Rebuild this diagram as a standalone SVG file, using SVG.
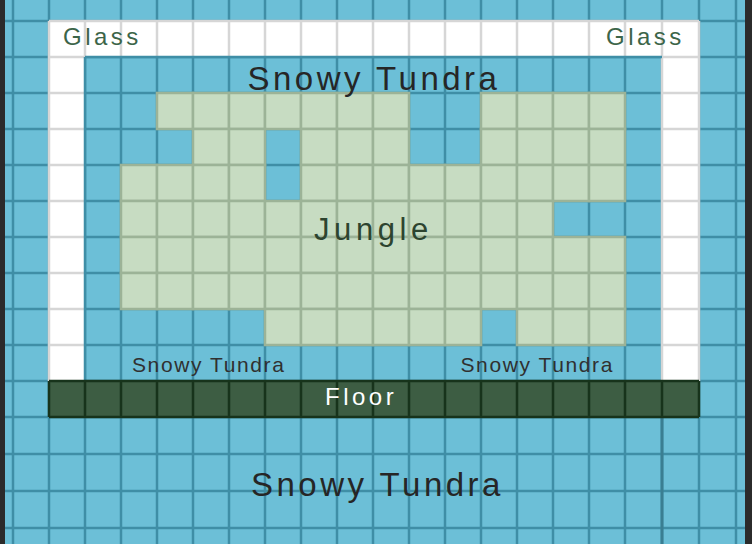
<svg xmlns="http://www.w3.org/2000/svg" width="752" height="544" viewBox="0 0 752 544">
<style>
.bg{fill:#6CBFD7}
.bgl{fill:none;stroke:#3F8EA6;stroke-width:2.5}
.gl{fill:#FFFFFF}
.gll{fill:none;stroke:#D6D6D6;stroke-width:2.5}
.j{fill:#C7DCC2;stroke:#9CB397;stroke-width:2.5}
.fl{fill:#3D5D43}
.fll{fill:none;stroke:#17331B;stroke-width:2.5}
.edge{fill:#2B2B2B}
text{font-family:"Liberation Sans",Arial,sans-serif}
.big{font-size:33px;fill:#262626;letter-spacing:3.5px}
.mid{font-size:21px;fill:#303030;letter-spacing:1.6px}
.glt{font-size:24px;fill:#3C6549;letter-spacing:3.5px}
.jt{font-size:31px;fill:#2D442F;letter-spacing:4.6px}
.ft{font-size:24px;fill:#FFFFFF;letter-spacing:3.5px}
</style>
<g id="background">
<rect class="bg" x="0" y="0" width="752" height="544"/>
<path class="bgl" d="M13 0V544M49 0V544M85 0V544M121 0V544M157 0V544M193 0V544M229 0V544M265 0V544M301 0V544M337 0V544M373 0V544M409 0V544M445 0V544M481 0V544M517 0V544M553 0V544M589 0V544M625 0V544M662 0V544M699 0V544M736 0V544M0 21H752M0 57H752M0 93H752M0 129H752M0 165H752M0 201H752M0 237H752M0 273H752M0 309H752M0 345H752M0 381H752M0 417H752M0 454H752M0 491H752M0 528H752"/>
<path d="M662 417V544" fill="none" stroke="#3A7E92" stroke-width="3"/>
<rect class="edge" x="0" y="0" width="5" height="544"/>
<rect class="edge" x="745" y="0" width="7" height="544"/>
</g>
<g id="glass">
<rect class="gl" x="49" y="21" width="650" height="36"/>
<rect class="gl" x="49" y="57" width="36" height="324"/>
<rect class="gl" x="662" y="57" width="37" height="324"/>
<path class="gll" d="M49 21H699M49 57H85M662 57H699M49 21V381M699 21V381M662 21V381M85 21V57M121 21V57M157 21V57M193 21V57M229 21V57M265 21V57M301 21V57M337 21V57M373 21V57M409 21V57M445 21V57M481 21V57M517 21V57M553 21V57M589 21V57M625 21V57M49 93H85M49 129H85M49 165H85M49 201H85M49 237H85M49 273H85M49 309H85M49 345H85M662 93H699M662 129H699M662 165H699M662 201H699M662 237H699M662 273H699M662 309H699M662 345H699"/>
<path class="bgl" d="M85 57V381M85 57H662"/>
</g>
<g id="jungle">
<rect class="j" x="157" y="93" width="36" height="36"/>
<rect class="j" x="193" y="93" width="36" height="36"/>
<rect class="j" x="229" y="93" width="36" height="36"/>
<rect class="j" x="265" y="93" width="36" height="36"/>
<rect class="j" x="301" y="93" width="36" height="36"/>
<rect class="j" x="337" y="93" width="36" height="36"/>
<rect class="j" x="373" y="93" width="36" height="36"/>
<rect class="j" x="481" y="93" width="36" height="36"/>
<rect class="j" x="517" y="93" width="36" height="36"/>
<rect class="j" x="553" y="93" width="36" height="36"/>
<rect class="j" x="589" y="93" width="36" height="36"/>
<rect class="j" x="193" y="129" width="36" height="36"/>
<rect class="j" x="229" y="129" width="36" height="36"/>
<rect class="j" x="301" y="129" width="36" height="36"/>
<rect class="j" x="337" y="129" width="36" height="36"/>
<rect class="j" x="373" y="129" width="36" height="36"/>
<rect class="j" x="481" y="129" width="36" height="36"/>
<rect class="j" x="517" y="129" width="36" height="36"/>
<rect class="j" x="553" y="129" width="36" height="36"/>
<rect class="j" x="589" y="129" width="36" height="36"/>
<rect class="j" x="121" y="165" width="36" height="36"/>
<rect class="j" x="157" y="165" width="36" height="36"/>
<rect class="j" x="193" y="165" width="36" height="36"/>
<rect class="j" x="229" y="165" width="36" height="36"/>
<rect class="j" x="301" y="165" width="36" height="36"/>
<rect class="j" x="337" y="165" width="36" height="36"/>
<rect class="j" x="373" y="165" width="36" height="36"/>
<rect class="j" x="409" y="165" width="36" height="36"/>
<rect class="j" x="445" y="165" width="36" height="36"/>
<rect class="j" x="481" y="165" width="36" height="36"/>
<rect class="j" x="517" y="165" width="36" height="36"/>
<rect class="j" x="553" y="165" width="36" height="36"/>
<rect class="j" x="589" y="165" width="36" height="36"/>
<rect class="j" x="121" y="201" width="36" height="36"/>
<rect class="j" x="157" y="201" width="36" height="36"/>
<rect class="j" x="193" y="201" width="36" height="36"/>
<rect class="j" x="229" y="201" width="36" height="36"/>
<rect class="j" x="265" y="201" width="36" height="36"/>
<rect class="j" x="301" y="201" width="36" height="36"/>
<rect class="j" x="337" y="201" width="36" height="36"/>
<rect class="j" x="373" y="201" width="36" height="36"/>
<rect class="j" x="409" y="201" width="36" height="36"/>
<rect class="j" x="445" y="201" width="36" height="36"/>
<rect class="j" x="481" y="201" width="36" height="36"/>
<rect class="j" x="517" y="201" width="36" height="36"/>
<rect class="j" x="121" y="237" width="36" height="36"/>
<rect class="j" x="157" y="237" width="36" height="36"/>
<rect class="j" x="193" y="237" width="36" height="36"/>
<rect class="j" x="229" y="237" width="36" height="36"/>
<rect class="j" x="265" y="237" width="36" height="36"/>
<rect class="j" x="301" y="237" width="36" height="36"/>
<rect class="j" x="337" y="237" width="36" height="36"/>
<rect class="j" x="373" y="237" width="36" height="36"/>
<rect class="j" x="409" y="237" width="36" height="36"/>
<rect class="j" x="445" y="237" width="36" height="36"/>
<rect class="j" x="481" y="237" width="36" height="36"/>
<rect class="j" x="517" y="237" width="36" height="36"/>
<rect class="j" x="553" y="237" width="36" height="36"/>
<rect class="j" x="589" y="237" width="36" height="36"/>
<rect class="j" x="121" y="273" width="36" height="36"/>
<rect class="j" x="157" y="273" width="36" height="36"/>
<rect class="j" x="193" y="273" width="36" height="36"/>
<rect class="j" x="229" y="273" width="36" height="36"/>
<rect class="j" x="265" y="273" width="36" height="36"/>
<rect class="j" x="301" y="273" width="36" height="36"/>
<rect class="j" x="337" y="273" width="36" height="36"/>
<rect class="j" x="373" y="273" width="36" height="36"/>
<rect class="j" x="409" y="273" width="36" height="36"/>
<rect class="j" x="445" y="273" width="36" height="36"/>
<rect class="j" x="481" y="273" width="36" height="36"/>
<rect class="j" x="517" y="273" width="36" height="36"/>
<rect class="j" x="553" y="273" width="36" height="36"/>
<rect class="j" x="589" y="273" width="36" height="36"/>
<rect class="j" x="265" y="309" width="36" height="36"/>
<rect class="j" x="301" y="309" width="36" height="36"/>
<rect class="j" x="337" y="309" width="36" height="36"/>
<rect class="j" x="373" y="309" width="36" height="36"/>
<rect class="j" x="409" y="309" width="36" height="36"/>
<rect class="j" x="445" y="309" width="36" height="36"/>
<rect class="j" x="517" y="309" width="36" height="36"/>
<rect class="j" x="553" y="309" width="36" height="36"/>
<rect class="j" x="589" y="309" width="36" height="36"/>
</g>
<g id="floor">
<rect class="fl" x="49" y="381" width="650" height="36"/>
<path class="fll" d="M49 381H699M49 417H699M49 381V417M85 381V417M121 381V417M157 381V417M193 381V417M229 381V417M265 381V417M301 381V417M337 381V417M373 381V417M409 381V417M445 381V417M481 381V417M517 381V417M553 381V417M589 381V417M625 381V417M662 381V417M699 381V417"/>
</g>
<g id="labels">
<text class="glt" x="63" y="45">Glass</text>
<text class="glt" x="606" y="45">Glass</text>
<text class="big" x="247.5" y="90">Snowy Tundra</text>
<text class="jt" x="314" y="240">Jungle</text>
<text class="mid" x="132" y="372">Snowy Tundra</text>
<text class="mid" x="460.5" y="372">Snowy Tundra</text>
<text class="ft" x="325" y="405">Floor</text>
<text class="big" x="251" y="496">Snowy Tundra</text>
</g>
</svg>
